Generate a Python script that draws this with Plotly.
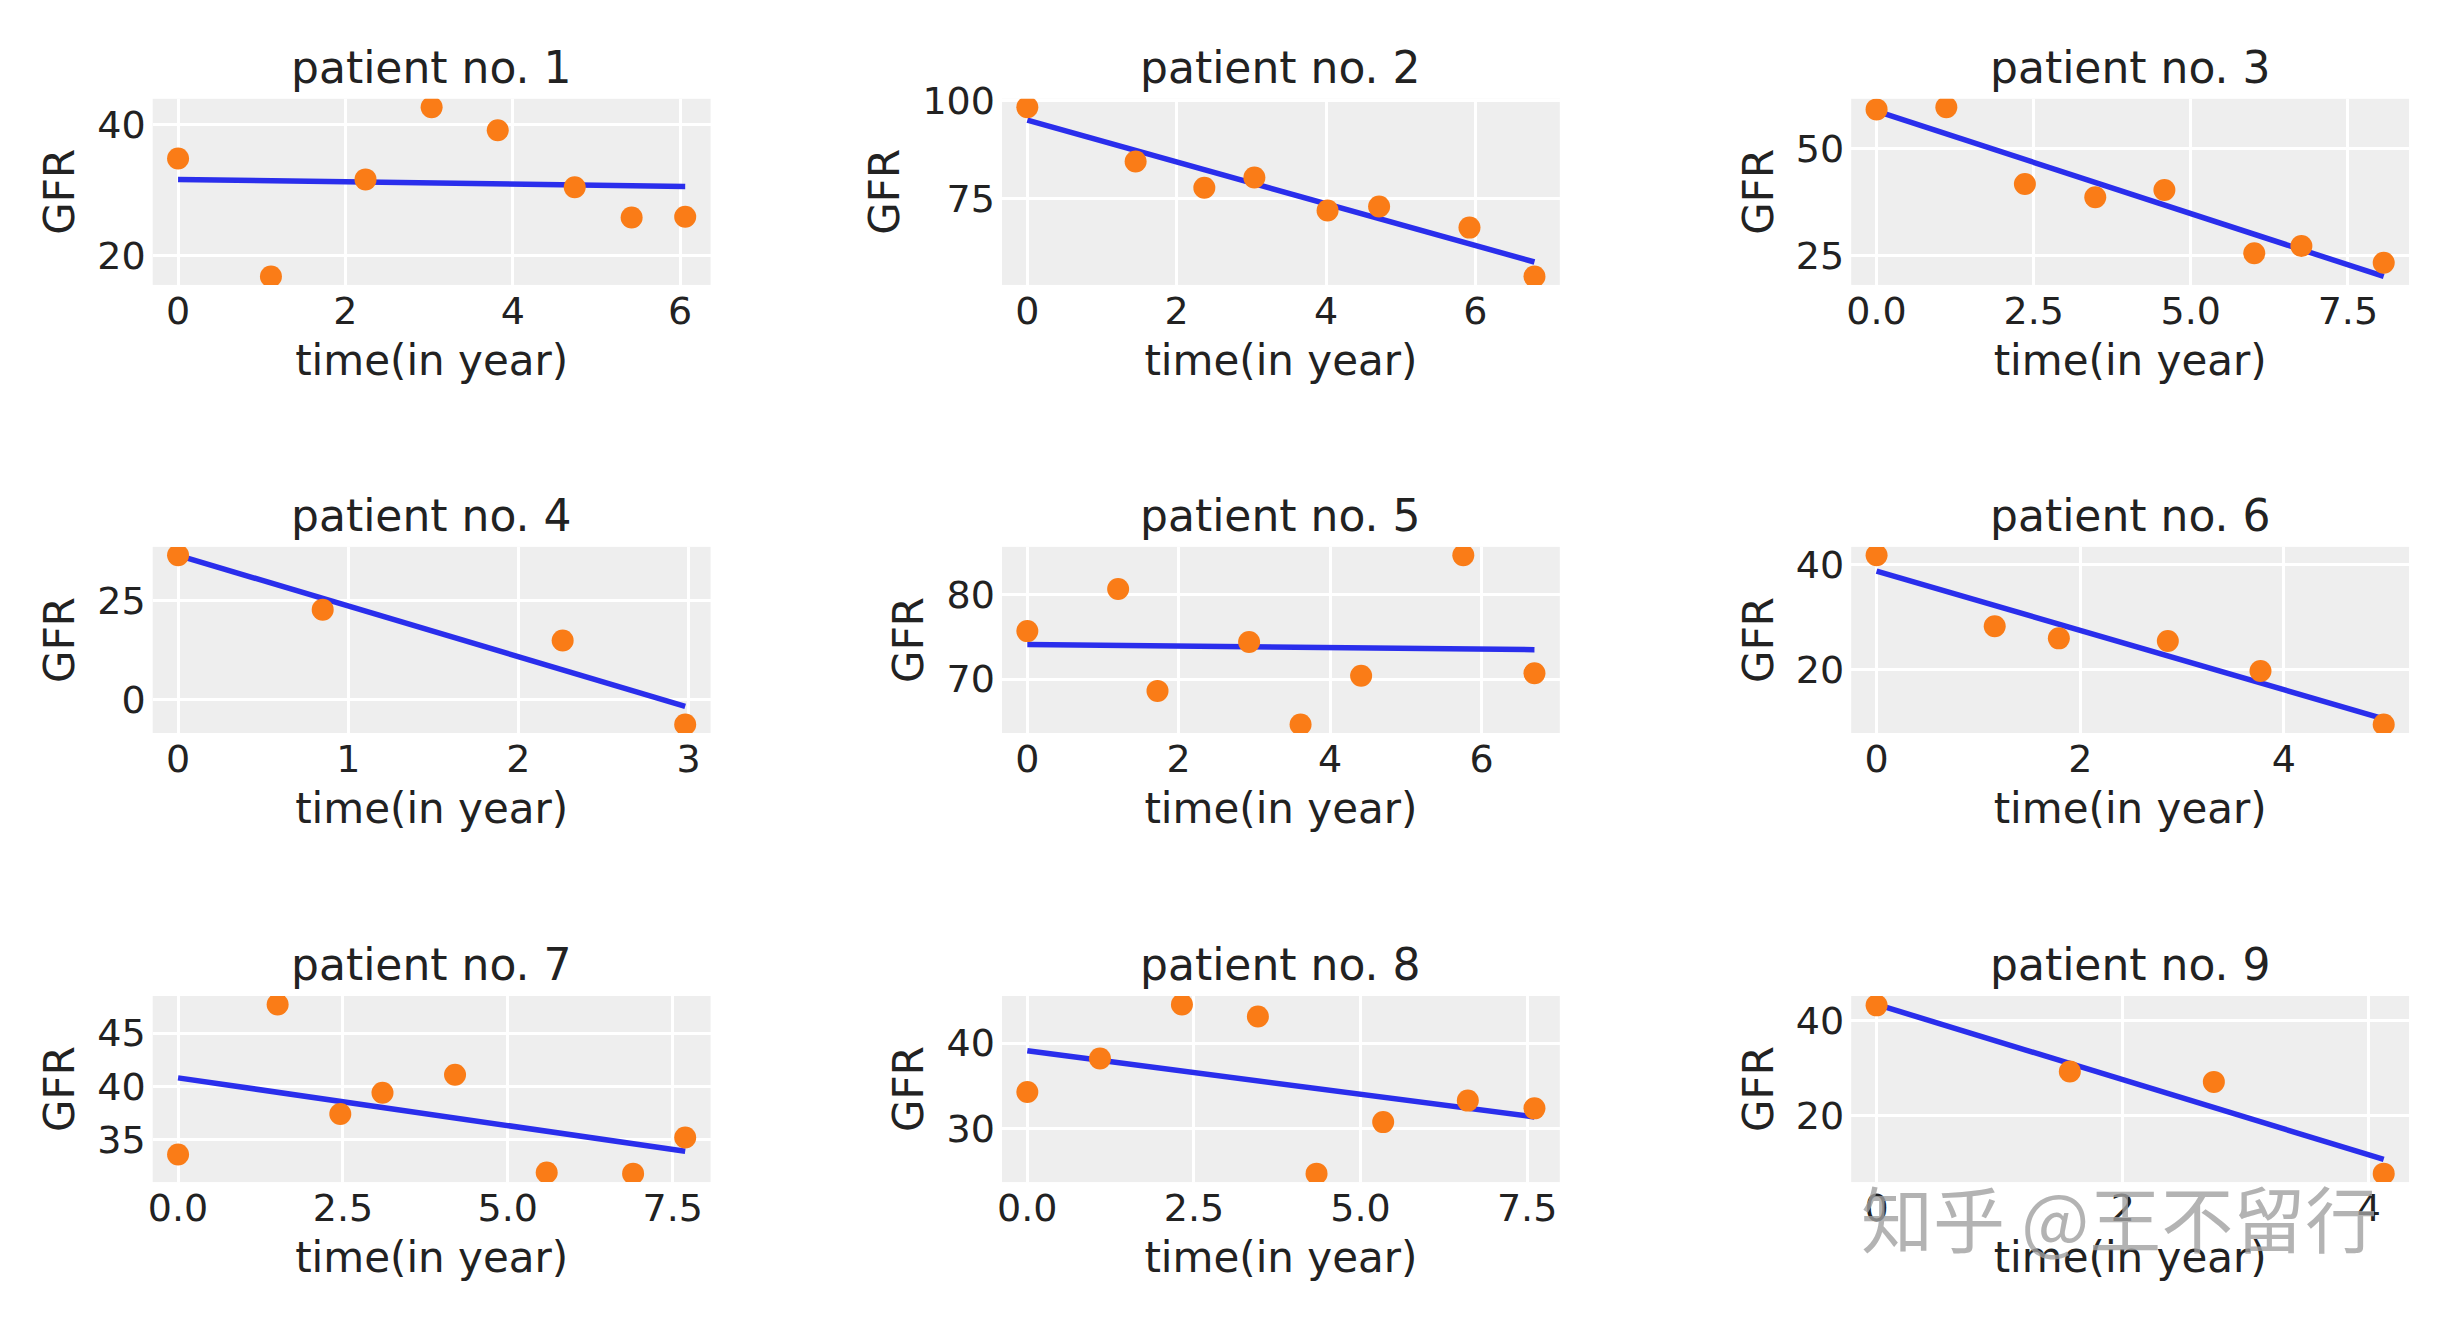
import plotly.graph_objects as go

# ---------------- data ----------------
time_1 = [0.0, 1.11, 2.24, 3.03, 3.82, 4.74, 5.42, 6.06]
gfr_1 = [34.8, 16.8, 31.6, 42.6, 39.1, 30.4, 25.8, 25.9]
time_2 = [0.0, 1.45, 2.37, 3.04, 4.02, 4.71, 5.92, 6.79]
gfr_2 = [98.3, 84.4, 77.7, 80.3, 71.9, 72.9, 67.5, 55.0]
time_3 = [0.0, 1.11, 2.36, 3.48, 4.58, 6.01, 6.76, 8.07]
gfr_3 = [59.2, 59.7, 41.8, 38.7, 40.4, 25.6, 27.3, 23.4]
time_4 = [0.0, 0.85, 2.26, 2.98]
gfr_4 = [36.4, 22.7, 14.9, -6.3]
time_5 = [0.0, 1.20, 1.72, 2.93, 3.61, 4.41, 5.76, 6.70]
gfr_5 = [75.7, 80.7, 68.6, 74.4, 64.6, 70.4, 84.7, 70.7]
time_6 = [0.0, 1.16, 1.79, 2.86, 3.77, 4.98]
gfr_6 = [41.8, 28.3, 26.0, 25.5, 19.8, 9.6]
time_7 = [0.0, 1.51, 2.46, 3.10, 4.20, 5.59, 6.90, 7.69]
gfr_7 = [33.6, 47.7, 37.4, 39.4, 41.1, 31.9, 31.8, 35.2]
time_8 = [0.0, 1.09, 2.32, 3.46, 4.34, 5.34, 6.61, 7.61]
gfr_8 = [34.3, 38.2, 44.5, 43.1, 24.8, 30.8, 33.3, 32.4]
time_9 = [0.0, 1.57, 2.74, 4.12]
gfr_9 = [43.2, 29.3, 27.1, 7.8]

# fitted line: value at time 0 and at the last visit
fit_start = [31.6, 95.0, 58.8, 36.4, 74.1, 38.8, 40.8, 39.1, 43.4]
fit_end = [30.5, 58.7, 20.2, -1.7, 73.5, 10.7, 33.9, 31.4, 10.8]

x_ticks = [[0, 2, 4, 6], [0, 2, 4, 6], [0, 2.5, 5, 7.5],
           [0, 1, 2, 3], [0, 2, 4, 6], [0, 2, 4],
           [0, 2.5, 5, 7.5], [0, 2.5, 5, 7.5], [0, 2, 4]]
x_tick_labels = [["0", "2", "4", "6"], ["0", "2", "4", "6"], ["0.0", "2.5", "5.0", "7.5"],
                 ["0", "1", "2", "3"], ["0", "2", "4", "6"], ["0", "2", "4"],
                 ["0.0", "2.5", "5.0", "7.5"], ["0.0", "2.5", "5.0", "7.5"], ["0", "2", "4"]]
y_ticks = [[20, 40], [75, 100], [25, 50],
           [0, 25], [70, 80], [20, 40],
           [35, 40, 45], [30, 40], [20, 40]]

titles = ["patient no. %d" % k for k in range(1, 10)]
x_label = "time(in year)"
y_label = "GFR"
watermark = "知乎 @王不留行"

times = [time_1, time_2, time_3, time_4, time_5, time_6, time_7, time_8, time_9]
gfrs = [gfr_1, gfr_2, gfr_3, gfr_4, gfr_5, gfr_6, gfr_7, gfr_8, gfr_9]

# ---------------- layout ----------------
W, H = 2446, 1318
col_left = [148, 999, 1850]
col_w = 559
row_top = [80, 535, 991]
row_h = 189

BG = "#eeeeee"
TXT = "#222222"
ORANGE = "#fa7c17"
BLUE = "#2a2eec"
FONT = "DejaVu Sans"

fig = go.Figure()
layout = dict(
    width=W, height=H, margin=dict(l=0, r=0, t=0, b=0),
    paper_bgcolor="white", plot_bgcolor=BG, showlegend=False,
    font=dict(family=FONT, color=TXT),
)
annotations = []

for i in range(9):
    r, c = divmod(i, 3)
    n = i + 1
    xa = "x" if n == 1 else "x%d" % n
    ya = "y" if n == 1 else "y%d" % n
    t, g = times[i], gfrs[i]
    line_x = [0.0, t[-1]]
    line_y = [fit_start[i], fit_end[i]]

    fig.add_trace(go.Scatter(x=line_x, y=line_y, mode="lines", xaxis=xa, yaxis=ya,
                             line=dict(color=BLUE, width=5.5), hoverinfo="skip"))
    fig.add_trace(go.Scatter(x=t, y=g, mode="markers", xaxis=xa, yaxis=ya,
                             marker=dict(color=ORANGE, size=22, line=dict(width=0))))

    xs = t + line_x
    ys = g + line_y
    xlo, xhi = min(xs), max(xs)
    ylo, yhi = min(ys), max(ys)
    xp = 0.05 * (xhi - xlo)
    yp = 0.05 * (yhi - ylo)

    x0 = col_left[c] / W
    x1 = (col_left[c] + col_w) / W
    y1 = 1 - row_top[r] / H
    y0 = 1 - (row_top[r] + row_h) / H

    layout["xaxis" if n == 1 else "xaxis%d" % n] = dict(
        domain=[x0, x1], anchor=ya, range=[xlo - xp, xhi + xp],
        tickvals=x_ticks[i], ticktext=x_tick_labels[i],
        showgrid=True, gridcolor="white", gridwidth=2.5, zeroline=False,
        showline=False, ticks="", ticklabelstandoff=0,
        tickfont=dict(size=38, family=FONT, color=TXT),
        title=dict(text=x_label, font=dict(size=42, family=FONT, color=TXT), standoff=13),
    )
    layout["yaxis" if n == 1 else "yaxis%d" % n] = dict(
        domain=[y0, y1], anchor=xa, range=[ylo - yp, yhi + yp],
        tickvals=y_ticks[i],
        showgrid=True, gridcolor="white", gridwidth=2.5, zeroline=False,
        showline=False, ticks="", ticklabelstandoff=6,
        tickfont=dict(size=38, family=FONT, color=TXT),
        title=dict(text=y_label, font=dict(size=42, family=FONT, color=TXT), standoff=9),
    )
    annotations.append(dict(
        text=titles[i], xref="paper", yref="paper", x=(x0 + x1) / 2, y=y1,
        xanchor="center", yanchor="bottom", yshift=4, showarrow=False,
        font=dict(size=44, family=FONT, color=TXT),
    ))

annotations.append(dict(
    text=watermark, xref="paper", yref="paper", x=2118 / W, y=1 - 1214 / H,
    xanchor="center", yanchor="middle", showarrow=False,
    font=dict(size=72, family="Noto Sans CJK SC", color="rgba(160,160,160,0.8)"),
))

layout["annotations"] = annotations
fig.update_layout(**layout)
fig.write_html(
    "out.html",
    config={"displayModeBar": False},
    post_script="document.body.style.margin='0';document.body.style.overflow='hidden';",
)
